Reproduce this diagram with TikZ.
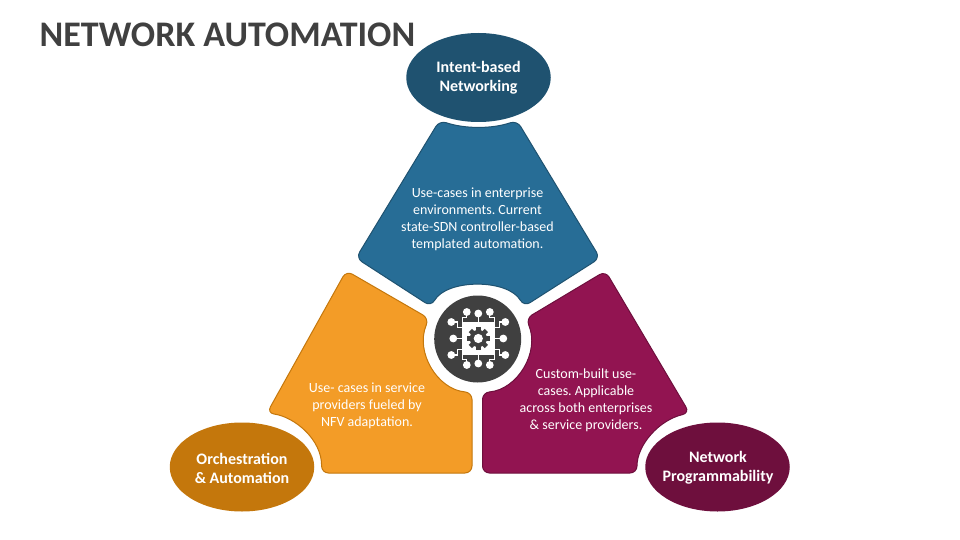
\documentclass[tikz,border=0pt]{standalone}
\usepackage{fontspec}
\setmainfont{Carlito}
\definecolor{bluefill}{HTML}{276D96}
\definecolor{blueedge}{HTML}{1F5270}
\definecolor{orangefill}{HTML}{F39C27}
\definecolor{orangeedge}{HTML}{C4770C}
\definecolor{magfill}{HTML}{921451}
\definecolor{magedge}{HTML}{6E0F3D}
\definecolor{inkdark}{HTML}{404040}
\usetikzlibrary{shapes.geometric}
\tikzset{
  petal/.style={rounded corners=7pt,line width=1pt,line join=round},
  badge/.style={ellipse,inner sep=0pt,minimum width=144.5pt,minimum height=89pt},
  badgetext/.style={text=white,align=center,inner sep=0pt,font=\fontsize{16}{19}\selectfont\bfseries\frenchspacing},
  bodytext/.style={text=white,align=center,inner sep=0pt,font=\fontsize{14}{17.1}\selectfont\frenchspacing},
  trace/.style={draw=white,line width=1.2pt},
  pin/.style={fill=white,radius=3.9pt},
}
\begin{document}
\begin{tikzpicture}[x=1pt,y=-1pt]
\useasboundingbox (0,0) rectangle (960,540);
% petals
\draw[petal,fill=bluefill,draw=blueedge]
  (439.5,120.5) .. controls (465,129) and (492,129) .. (517,120.5)
  -- (600,258) -- (524,306.5)
  .. controls (508,278.7) and (447,278.7) .. (431,306.5)
  -- (356,258) -- cycle;
\draw[petal,fill=orangefill,draw=orangeedge]
  (346.3,270.7) -- (429,318.5)
  .. controls (414.8,352.1) and (437.6,389.6) .. (472,392.5)
  -- (472,473) -- (321.5,473)
  .. controls (322,440) and (295,417) .. (267,413)
  -- cycle;
\draw[petal,fill=magfill,draw=magedge]
  (605.5,271) -- (689.5,413)
  .. controls (659,420) and (637,445) .. (637,473)
  -- (482.5,473) -- (482.5,392.5)
  .. controls (517.4,389.6) and (540.2,352.1) .. (526,318.5)
  -- cycle;
% hub
\fill[inkdark] (477.7,339) circle[radius=43.5pt];
\begin{scope}[shift={(478.3,338.5)}]
  \fill[white] (-16.5,-16.5) rectangle (16.5,16.5);
  \foreach \sx in {-1,1}{
    \foreach \sy in {-1,1}{
      \draw[trace] (\sx*11.5,\sy*26.5) -- (\sx*11.5,\sy*21) -- (\sx*16,\sy*21) -- (\sx*16,\sy*16);
      \draw[trace] (\sx*27,\sy*16.5) -- (\sx*21,\sy*16.5) -- (\sx*21,\sy*11) -- (\sx*16,\sy*11);
      \fill[pin] (\sx*11.5,\sy*26.5) circle;
      \fill[pin] (\sx*27,\sy*16.5) circle;
    }
    \draw[trace] (0,\sx*25) -- (0,\sx*16);
    \draw[trace] (\sx*25,0) -- (\sx*16,0);
    \fill[pin] (0,\sx*25) circle;
    \fill[pin] (\sx*25,0) circle;
  }
  \fill[inkdark] (0,0) circle[radius=8.6pt];
  \foreach \a in {0,45,...,315}{
    \fill[inkdark,rotate=\a] (-2.3,-11.3) rectangle (2.3,-7);
  }
  \fill[white] (0,0) circle[radius=4.6pt];
\end{scope}
% badges
\node[badge,fill=blueedge] (intent) at (478.5,77.5) {};
\node[badge,fill=orangeedge] (orch) at (242,467) {};
\node[badge,fill=magedge] (prog) at (717.5,467) {};
\node[badgetext] (intentlabel) at (478.5,78) {Intent-based\\Networking};
\node[badgetext] (orchlabel) at (242,468) {Orchestration\\\&\ Automation};
\node[badgetext] (proglabel) at (718,468) {Network\\Programmability};
% texts
\node[bodytext] (bluetext) at (477.5,219.5) {Use-cases in enterprise\\environments. Current\\state-SDN controller-based\\templated automation.};
\node[bodytext] (orangetext) at (367,406) {Use- cases in service\\providers fueled by\\NFV adaptation.};
\node[bodytext] (magtext) at (586,400.5) {Custom-built use-\\cases. Applicable\\across both enterprises\\\&\ service providers.};
\node[anchor=base west,inner sep=0pt,text=inkdark,font=\fontsize{36}{40}\selectfont\bfseries] (title) at (39.5,46.5) {NETWORK AUTOMATION};
\end{tikzpicture}
\end{document}
